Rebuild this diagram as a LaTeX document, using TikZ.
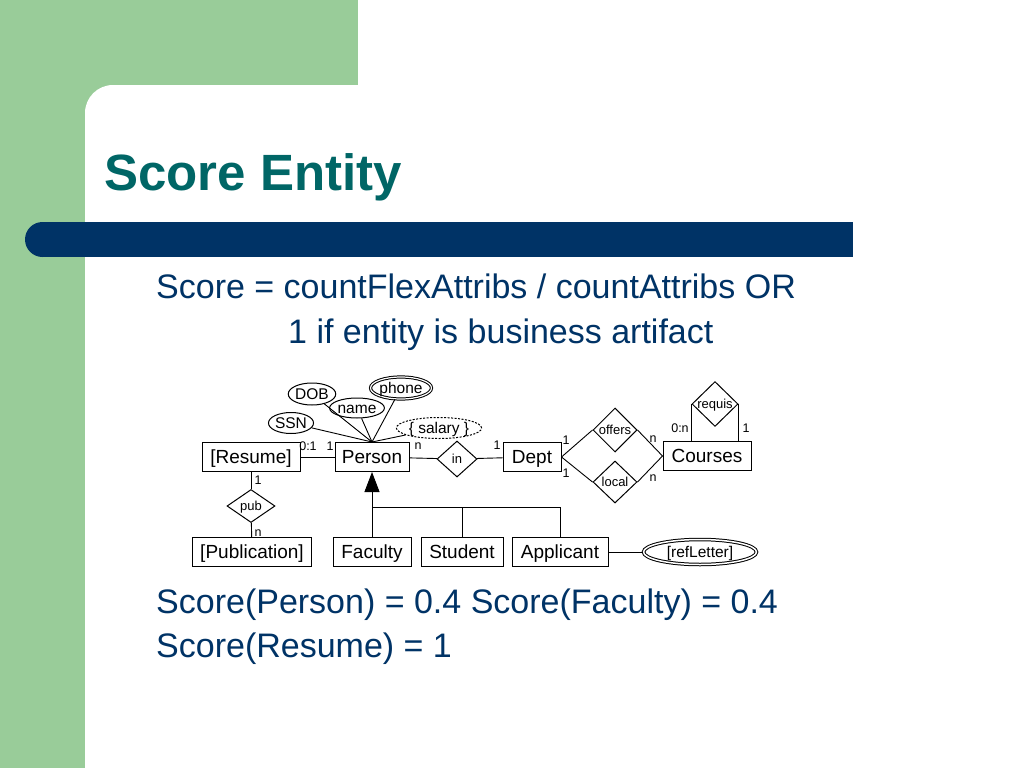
\documentclass[tikz,border=0pt]{standalone}
\usepackage{fontspec}
\setmainfont{Liberation Sans}
\usetikzlibrary{shapes.geometric,arrows.meta}

\definecolor{slidegreen}{RGB}{153,204,153}
\definecolor{slideblue}{RGB}{0,51,102}
\definecolor{titleteal}{RGB}{0,102,102}

\begin{document}
\begin{tikzpicture}[x=1pt,y=-1pt,
	entity/.style={draw, line width=1pt, rectangle, minimum height=29pt, inner sep=0pt, text height=13.6pt, text depth=0pt, font=\fontsize{19}{19}\selectfont},
	rel/.style={draw, line width=1pt, diamond, inner sep=0pt, text height=9.5pt, text depth=0pt, font=\fontsize{13}{13}\selectfont},
	attr/.style={draw, line width=1pt, ellipse, inner sep=0pt, text height=11pt, text depth=0pt, font=\fontsize{15.5}{15.5}\selectfont},
	card/.style={inner sep=0pt, text height=9pt, text depth=0pt, font=\fontsize{12.5}{12.5}\selectfont},
	bodytext/.style={anchor=base west, inner sep=0pt, text=slideblue, font=\fontsize{34}{34}\selectfont}]
	\useasboundingbox (0,0) rectangle (1024,768);
	% slide background
	\fill[slidegreen] (0,0) rectangle (358,120);
	\fill[slidegreen] (0,0) rectangle (85,768);
	\fill[white] (85,768) [rounded corners=28pt] -- (85,85) [sharp corners] -- (1024,85) -- (1024,768) -- cycle;
	\fill[slideblue] (42,222) rectangle (853,257);
	\fill[slideblue] (42.5,239.5) circle (17.5);
	\node[anchor=base west, inner sep=0pt, text=titleteal, font=\fontsize{51}{51}\selectfont\bfseries] (title) at (104,190) {Score Entity};
	\node[bodytext] (formula) at (156,298) {Score = countFlexAttribs / countAttribs OR};
	\node[bodytext] (formulab) at (288,343) {1 if entity is business artifact};
	\node[bodytext] (scorea) at (156,613) {Score(Person) = 0.4 Score(Faculty) = 0.4};
	\node[bodytext] (scoreb) at (156,657) {Score(Resume) = 1};
	% entities and relationships
	\node[entity, minimum width=98pt] (resume) at (251,457) {[Resume]};
	\node[entity, minimum width=74pt] (person) at (372,457) {Person};
	\node[rel, minimum width=40pt, minimum height=36pt] (in) at (457,459) {in};
	\node[entity, minimum width=58pt] (dept) at (532,457) {Dept};
	\node[rel, minimum width=44pt, minimum height=44pt] (offers) at (615,430) {offers};
	\node[rel, minimum width=44pt, minimum height=42pt] (local) at (615,482) {local};
	\node[entity, minimum width=88pt] (courses) at (707,456) {Courses};
	\node[rel, minimum width=46pt, minimum height=38pt] (requis) at (715,404) {requis};
	\node[rel, minimum width=48pt, minimum height=33pt] (pub) at (251,506) {pub};
	\node[entity, minimum width=119pt] (publication) at (252,552) {[Publication]};
	\node[entity, minimum width=78pt] (faculty) at (372,552) {Faculty};
	\node[entity, minimum width=82pt] (student) at (462,552) {Student};
	\node[entity, minimum width=96pt] (applicant) at (560,552) {Applicant};
	% attributes
	\node[attr, minimum width=41pt, minimum height=22pt] (dob) at (312,394) {DOB};
	\node[attr, minimum width=42pt, minimum height=20pt] (name) at (357,408) {name};
	\node[attr, double, double distance=1.2pt, minimum width=57pt, minimum height=22pt] (phone) at (401,388) {phone};
	\node[attr, minimum width=38pt, minimum height=21pt] (ssn) at (291,423) {SSN};
	\node[attr, dash pattern=on 2pt off 1.5pt, minimum width=78pt, minimum height=21pt] (salary) at (439,428) {\{ salary \}};
	\node[attr, double, double distance=1.5pt, minimum width=113pt, minimum height=25pt] (refletter) at (700,552) {[refLetter]};
	\coordinate (isa) at (372,507);
	% connectors
	\path[draw, line width=0.9pt]
		(person.north) edge (dob) edge (name) edge (phone) edge (ssn) edge (salary)
		(resume) edge (person)
		(person) edge (in)
		(in) edge (dept)
		(dept.east) edge (offers.west) edge (local.west)
		(courses.west) edge (offers.east) edge (local.east)
		(requis.west) edge (requis.west |- courses.north)
		(requis.east) edge (requis.east |- courses.north)
		(resume) edge (pub)
		(pub) edge (publication)
		(applicant) edge (refletter)
		(student.north) edge (student.north |- isa);
	\draw[line width=0.9pt] (faculty.north) -- (isa) -| (applicant.north);
	\draw[line width=0.9pt, -{Triangle[length=20pt, width=15pt]}] (isa) -- (person.south);
	% cardinalities
	\node[card] (ca) at (308,446) {0:1};
	\node[card] (cb) at (330,446) {1};
	\node[card] (cc) at (418,445) {n};
	\node[card] (cd) at (497,445) {1};
	\node[card] (ce) at (566,440) {1};
	\node[card] (cf) at (566,473) {1};
	\node[card] (cg) at (653,438) {n};
	\node[card] (ch) at (653,477) {n};
	\node[card] (ci) at (680,428) {0:n};
	\node[card] (cj) at (746,428) {1};
	\node[card] (ck) at (258,480) {1};
	\node[card] (cl) at (258,532) {n};
\end{tikzpicture}
\end{document}
